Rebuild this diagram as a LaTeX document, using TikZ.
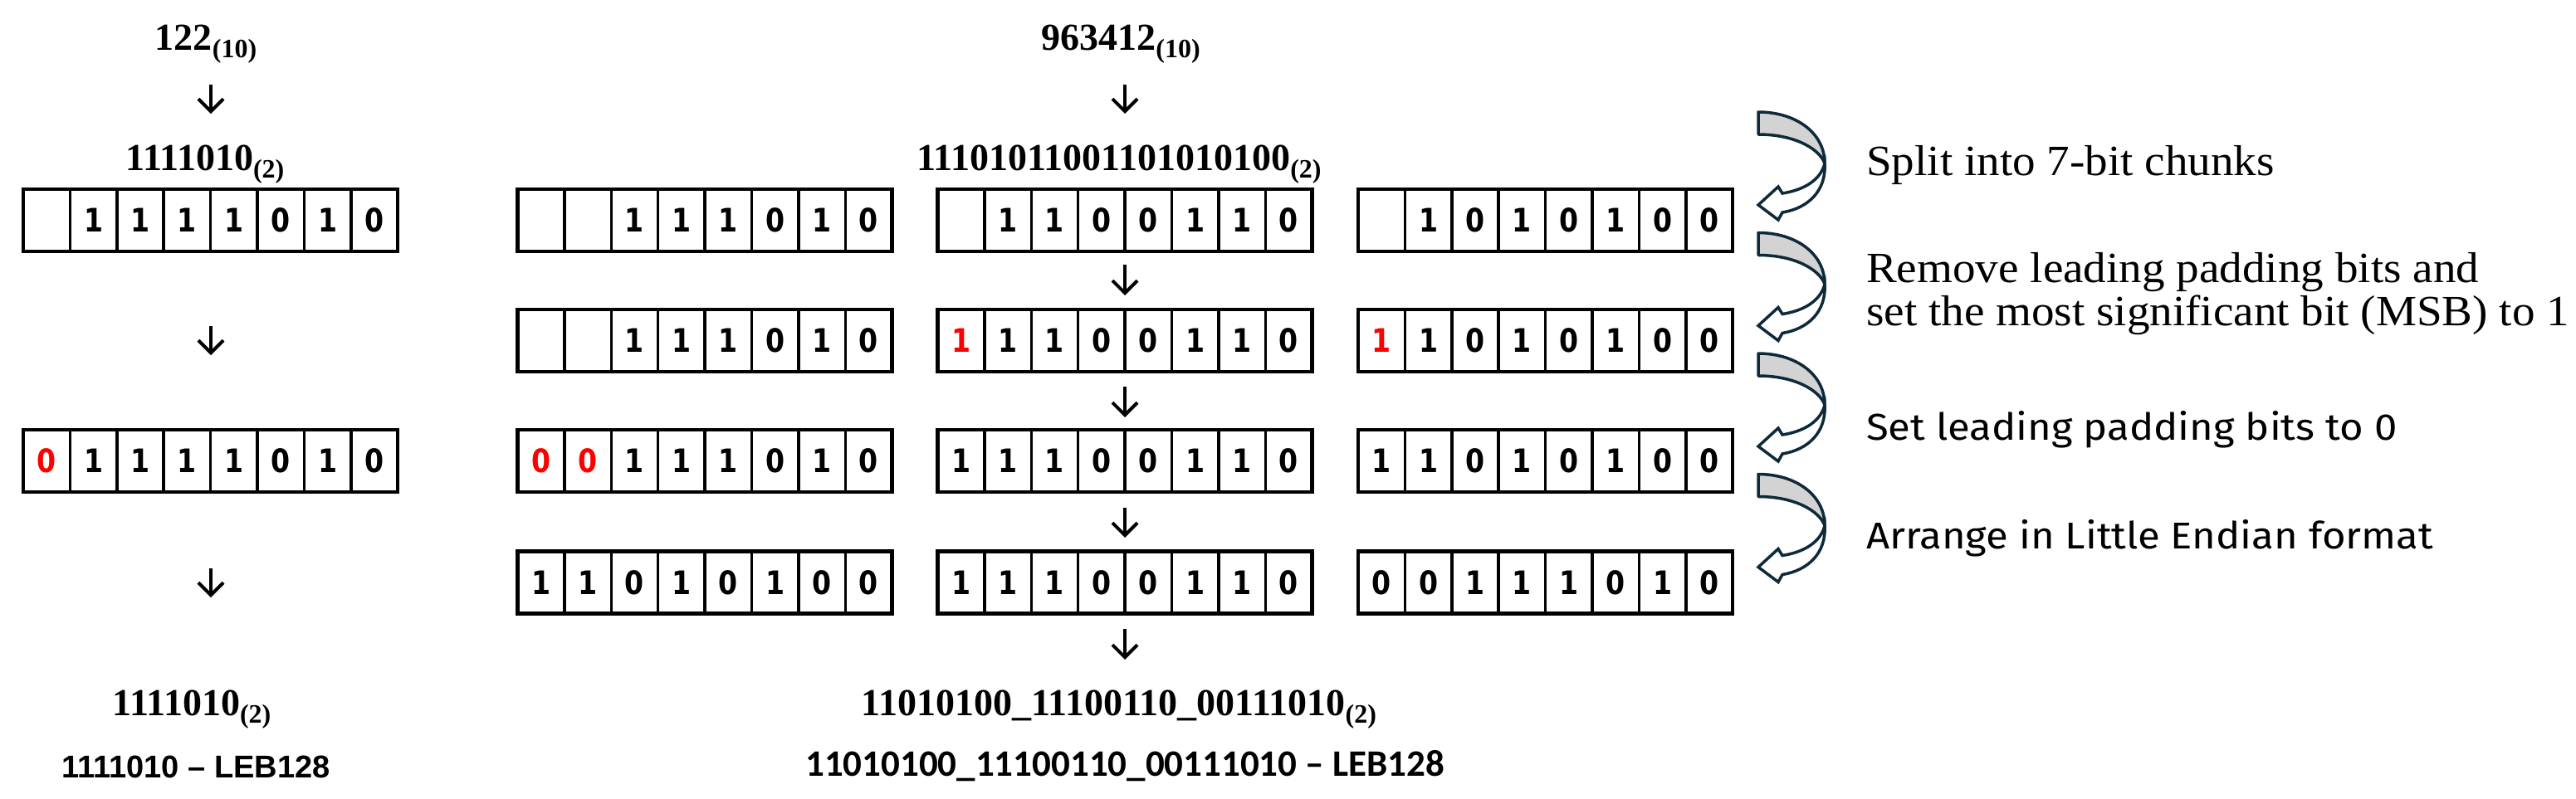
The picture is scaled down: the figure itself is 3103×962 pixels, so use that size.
\documentclass[tikz,border=0pt]{standalone}
\usepackage{fontspec}
\usetikzlibrary{arrows.meta}
\newfontfamily\cellfont{DejaVu Sans}[FakeStretch=0.85]
\newfontfamily\numfont{Liberation Serif}
\newfontfamily\arialfont{Liberation Sans}
\newfontfamily\carlfont{Carlito}
\newfontfamily\labserif{Liberation Serif}[FakeStretch=1.06]
\newfontfamily\labsans{Fira Sans}[FakeStretch=1.09]
\definecolor{navy}{HTML}{0E2A3A}
\definecolor{arrgray}{HTML}{D3D3D3}
\definecolor{bitred}{HTML}{FF0000}
\newcommand\bsub[1]{\raisebox{-9pt}{\fontsize{32}{32}\selectfont(#1)}}
\newcommand\redbit[1]{\textcolor{bitred}{#1}}
\newcommand\bitgroup[4]{%
  \foreach \v [count=\i] in {#4} {
    \node[cell] (#1-\i) at ({#2+(\i-0.5)*56.4}, #3) {\v};
  }
  \draw[line width=4.5pt] (#1-1.north west) rectangle (#1-8.south east);
}
\tikzset{
  cell/.style={draw, line width=3.5pt, minimum width=56.4pt, minimum height=75pt,
    inner sep=0pt, outer sep=0pt, font=\cellfont\bfseries\fontsize{39}{39}\selectfont},
  numtxt/.style={anchor=base, inner sep=0pt, font=\numfont\bfseries\fontsize{46}{46}\selectfont},
  dnarrow/.style={line width=4pt, -{Straight Barb[length=15pt,width=30pt]}},
  serlab/.style={anchor=base west, inner sep=0pt, font=\labserif\fontsize{52}{52}\selectfont},
  sanslab/.style={anchor=base west, inner sep=0pt, font=\labsans\fontsize{45}{45}\selectfont},
  curvearrow/.pic={
    \draw[navy, line width=3.5pt, fill=arrgray, line join=round]
      (0,0) .. controls (45,0) and (80,25) .. (80,62)
      .. controls (74,45) and (45,27) .. (0,27) -- cycle;
    \draw[navy, line width=3.5pt, fill=white]
      (80,62) .. controls (82,95) and (60,116) .. (29,121) -- (24,130) -- (0,112)
      -- (24,90) -- (29,98) .. controls (55,94) and (75,82) .. (80,62) -- cycle;
  }
}
\begin{document}
\begin{tikzpicture}[x=1pt,y=-1pt]
\useasboundingbox (0,0) rectangle (3103,962);

% texts
\node[numtxt] (dec1) at (248,60) {122\bsub{10}};
\node[numtxt] (bin1) at (247,205) {1111010\bsub{2}};
\node[numtxt] (dec2) at (1350,60) {963412\bsub{10}};
\node[numtxt] (bin2) at (1348,205) {11101011001101010100\bsub{2}};
\node[numtxt] (res1) at (231,862) {1111010\bsub{2}};
\node[numtxt] (res2) at (1348,862) {11010100\_11100110\_00111010\bsub{2}};
\node[anchor=base, inner sep=0pt, font=\arialfont\bfseries\fontsize{38}{38}\selectfont] (leb1) at (236,937) {1111010 – LEB128};
\node[anchor=base, inner sep=0pt, font=\carlfont\bfseries\fontsize{45}{45}\selectfont] (leb2) at (1355,935) {11010100\_11100110\_00111010 – LEB128};

% bit rows
\bitgroup{L1}{28}{265.5}{{},1,1,1,1,0,1,0}
\bitgroup{L3}{28}{555.5}{\redbit{0},1,1,1,1,0,1,0}

\bitgroup{A1}{623.5}{265.5}{{},{},1,1,1,0,1,0}
\bitgroup{A2}{623.5}{410.5}{{},{},1,1,1,0,1,0}
\bitgroup{A3}{623.5}{555.5}{\redbit{0},\redbit{0},1,1,1,0,1,0}
\bitgroup{A4}{623.5}{702}{1,1,0,1,0,1,0,0}

\bitgroup{B1}{1129.5}{265.5}{{},1,1,0,0,1,1,0}
\bitgroup{B2}{1129.5}{410.5}{\redbit{1},1,1,0,0,1,1,0}
\bitgroup{B3}{1129.5}{555.5}{1,1,1,0,0,1,1,0}
\bitgroup{B4}{1129.5}{702}{1,1,1,0,0,1,1,0}

\bitgroup{C1}{1636}{265.5}{{},1,0,1,0,1,0,0}
\bitgroup{C2}{1636}{410.5}{\redbit{1},1,0,1,0,1,0,0}
\bitgroup{C3}{1636}{555.5}{1,1,0,1,0,1,0,0}
\bitgroup{C4}{1636}{702}{0,0,1,1,1,0,1,0}

% straight arrows
\coordinate (la1s) at (254,102); \coordinate (la1e) at (254,137);
\coordinate (la2s) at (254,393); \coordinate (la2e) at (254,428);
\coordinate (la3s) at (254,685); \coordinate (la3e) at (254,720);
\coordinate (ma1s) at (1355,102); \coordinate (ma1e) at (1355,137);
\coordinate (ma2s) at (1355,319); \coordinate (ma2e) at (1355,356);
\coordinate (ma3s) at (1355,466); \coordinate (ma3e) at (1355,503);
\coordinate (ma4s) at (1355,612); \coordinate (ma4e) at (1355,648);
\coordinate (ma5s) at (1355,758); \coordinate (ma5e) at (1355,795);
\foreach \a in {la1,la2,la3,ma1,ma2,ma3,ma4,ma5} {
  \draw[dnarrow] (\a s) -- (\a e);
}

% curved arrows
\foreach \k in {0,1,2,3} {
  \pic at (2118,{135+145.5*\k}) {curvearrow};
}

% labels
\node[serlab] (lab1) at (2248,211) {Split into 7-bit chunks};
\node[serlab] (lab2a) at (2248,340) {Remove leading padding bits and};
\node[serlab] (lab2b) at (2248,392) {set the most significant bit (MSB) to 1};
\node[sanslab] (lab3) at (2248,530) {Set leading padding bits to 0};
\node[sanslab] (lab4) at (2248,661) {Arrange in Little Endian format};
\end{tikzpicture}
\end{document}
